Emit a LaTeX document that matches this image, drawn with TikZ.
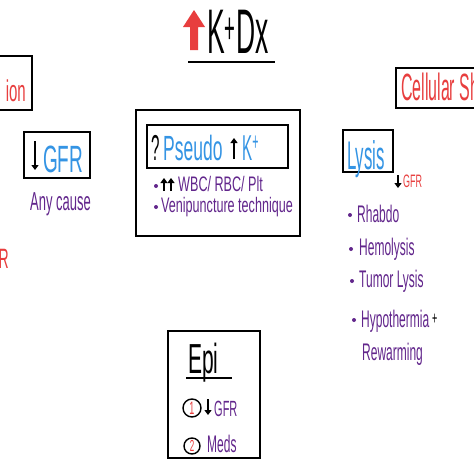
\documentclass[tikz,border=0pt]{standalone}
\usepackage{fontspec}
\usetikzlibrary{arrows.meta}
\setmainfont{Liberation Sans}
\newfontfamily\hand[FakeStretch=0.5]{Liberation Sans}
\newfontfamily\handt[FakeStretch=0.42]{Liberation Sans}
\newfontfamily\handw[FakeStretch=0.6]{Liberation Sans}
\definecolor{hred}{RGB}{232,62,62}
\definecolor{hblue}{RGB}{52,148,228}
\definecolor{hpurp}{RGB}{98,38,140}
\newcommand\fs[1]{\fontsize{#1}{#1}\selectfont}
\begin{document}
\begin{tikzpicture}[x=1pt,y=-1pt,
  frame/.style={draw=black,line width=2pt,inner sep=0pt},
  txt/.style={inner sep=0pt,anchor=base west},
  arr/.style={draw=black,line width=1.8pt,-{Triangle[length=5pt,width=7pt]}},
  dot/.style={circle,fill=hpurp,inner sep=0pt,minimum size=4pt}]
\useasboundingbox (0,0) rectangle (474,474);
\fill[white] (0,0) rectangle (474,474);

% title
\fill[hred] (183,27) -- (194,10) -- (205,27) -- (198,27) -- (198,50) -- (190,50) -- (190,27) -- cycle;
\node[txt,font={\handt\fs{63}}] (title) at (207,53) {K\textsuperscript{+}Dx};
\coordinate (ulA) at (188,62);
\coordinate (ulB) at (275,62);
\draw[line width=1.6pt] (ulA) -- (ulB);

% left cut box
\node[frame,minimum width=44pt,minimum height=54pt] (leftbox) at (10,83) {};
\node[inner sep=0pt,anchor=base east,text=hred,font={\hand\fs{30}}] (lefttxt) at (26,101) {ion};
\node[inner sep=0pt,anchor=base east,text=hred,font={\hand\fs{28}}] (leftr) at (9,268) {R};

% GFR box
\node[frame,minimum width=66pt,minimum height=46pt] (gfrbox) at (57,155) {};
\coordinate (ga1) at (35,141);
\coordinate (ga2) at (35,170);
\draw[arr] (ga1) -- (ga2);
\node[txt,text=hblue,font={\hand\fs{38}}] (gfr) at (43,172) {GFR};
\node[txt,text=hpurp,font={\hand\fs{26}}] (any) at (30,210) {Any cause};

% pseudo box
\node[frame,minimum width=164pt,minimum height=126pt] (pbox) at (218,173) {};
\node[frame,minimum width=141pt,minimum height=43pt] (pinner) at (217.5,146.5) {};
\node[txt,font={\handt\fs{36}}] (pq) at (151,160) {?};
\node[txt,text=hblue,font={\hand\fs{35}}] (ptxt) at (163,160) {Pseudo};
\coordinate (pa1) at (234,159);
\coordinate (pa2) at (234,138);
\draw[arr] (pa1) -- (pa2);
\node[txt,text=hblue,font={\handt\fs{36}}] (pk) at (242,160) {K\textsuperscript{+}};
\node[dot] (pd1) at (156,186) {};
\coordinate (wa1) at (164,191);
\coordinate (wa2) at (164,178);
\coordinate (wb1) at (171,191);
\coordinate (wb2) at (171,178);
\draw[arr,line width=1.4pt] (wa1) -- (wa2);
\draw[arr,line width=1.4pt] (wb1) -- (wb2);
\node[txt,text=hpurp,font={\handw\fs{21}}] (wbc) at (178,191) {WBC/ RBC/ Plt};
\node[dot] (pd2) at (156,207) {};
\node[txt,text=hpurp,font={\handw\fs{21}}] (veni) at (161,212) {Venipuncture technique};

% cellular box
\node[frame,minimum width=84pt,minimum height=40pt] (cbox) at (438,88) {};
\node[txt,text=hred,font={\handt\fs{38}}] (ctxt) at (401,100) {Cellular Sh};

% lysis
\node[frame,minimum width=50pt,minimum height=42pt] (lbox) at (368,151) {};
\node[txt,text=hblue,font={\handt\fs{40}}] (lysis) at (347,169) {Lysis};
\coordinate (la1) at (398,175);
\coordinate (la2) at (398,188);
\draw[arr,line width=1.3pt] (la1) -- (la2);
\node[txt,text=hred,font={\hand\fs{18}}] (lgfr) at (403,187) {GFR};
\node[dot] (b1) at (350,215) {};
\node[txt,text=hpurp,font={\hand\fs{24}}] (rhab) at (357,222) {Rhabdo};
\node[dot] (b2) at (351,249) {};
\node[txt,text=hpurp,font={\hand\fs{24}}] (hemo) at (359,255) {Hemolysis};
\node[dot] (b3) at (352,281) {};
\node[txt,text=hpurp,font={\hand\fs{24}}] (tumor) at (359,287) {Tumor Lysis};
\node[dot] (b4) at (354,320) {};
\node[txt,text=hpurp,font={\hand\fs{24}}] (hypo) at (361,327) {Hypothermia};
\node[txt,font={\hand\fs{18}}] (plus) at (432,324) {+};
\node[txt,text=hpurp,font={\hand\fs{24}}] (rewarm) at (362,360) {Rewarming};

% epi box
\node[frame,minimum width=92pt,minimum height=127pt] (ebox) at (214,394) {};
\node[txt,font={\hand\fs{42}}] (epi) at (188,373) {Epi};
\coordinate (eu1) at (186,378);
\coordinate (eu2) at (232,378);
\draw[line width=1.4pt] (eu1) -- (eu2);
\node[draw=black,line width=1.4pt,circle,minimum size=18pt,inner sep=0pt,text=hred,font={\hand\fs{18}}] (c1) at (192,408) {1};
\coordinate (ea1) at (208,399);
\coordinate (ea2) at (208,415);
\draw[arr,line width=1.5pt] (ea1) -- (ea2);
\node[txt,text=hpurp,font={\hand\fs{22}}] (egfr) at (214,416) {GFR};
\node[draw=black,line width=1.4pt,circle,minimum size=16pt,inner sep=0pt,text=hred,font={\hand\fs{16}}] (c2) at (192,446) {2};
\node[txt,text=hpurp,font={\hand\fs{24}}] (meds) at (207,452) {Meds};
\end{tikzpicture}
\end{document}
